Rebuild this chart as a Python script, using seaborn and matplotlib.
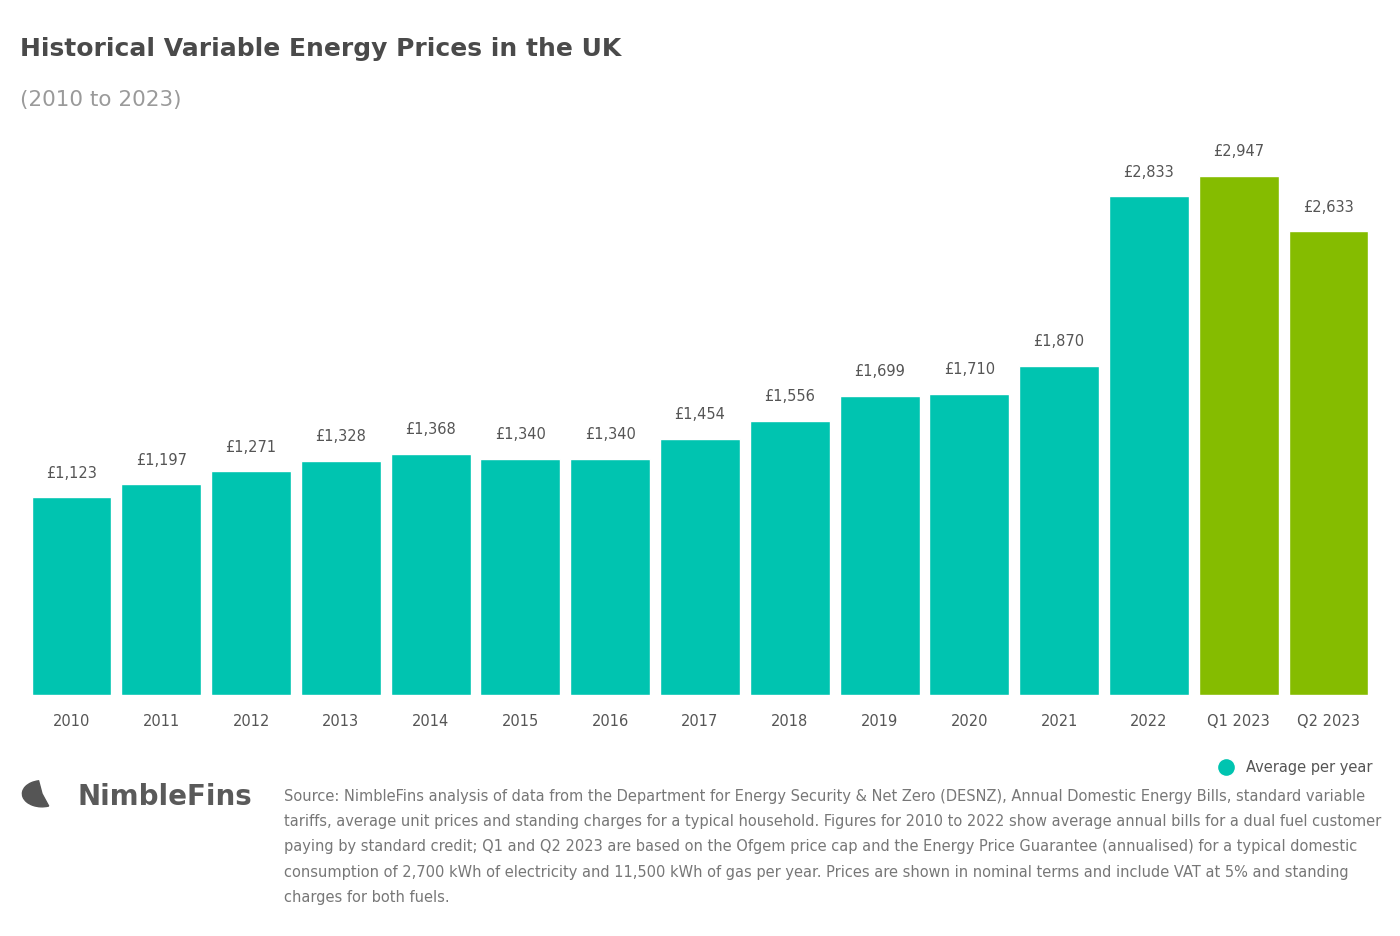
import matplotlib
matplotlib.use("Agg")
import matplotlib.pyplot as plt
import matplotlib.patches as mpatches
from matplotlib.lines import Line2D
import seaborn as sns
import pandas as pd

# data (average yearly bill, GBP)
periods = ["2010", "2011", "2012", "2013", "2014", "2015", "2016", "2017",
           "2018", "2019", "2020", "2021", "2022", "Q1 2023", "Q2 2023"]
bills = [1123, 1197, 1271, 1328, 1368, 1340, 1340, 1454,
         1556, 1699, 1710, 1870, 2833, 2947, 2633]
kind = ["actual"] * 13 + ["cap"] * 2

teal = "#00c4b0"
green = "#85bc00"
grey = "#555555"

df = pd.DataFrame({"Period": periods, "Bill": bills, "Kind": kind})

sns.set_theme(style="white")
plt.rcParams["font.family"] = ["DejaVu Sans"]

fig = plt.figure(figsize=(14, 9.36), dpi=100)
ax = fig.add_axes([0.019, 0.2575, 0.962, 0.585])

sns.barplot(data=df, x="Period", y="Bill", hue="Kind",
            palette={"actual": teal, "cap": green}, dodge=False,
            width=0.89, saturation=1, legend=False, ax=ax)

ax.set_ylim(0, 3110)
ax.set_xlim(-0.5, len(periods) - 0.5)
ax.set_xlabel("")
ax.set_ylabel("")
ax.set_yticks([])
for s in ax.spines.values():
    s.set_visible(False)
ax.tick_params(axis="x", length=0, pad=14, labelsize=10.5, labelcolor=grey)

# value labels above the bars
for i, v in enumerate(bills):
    ax.annotate(f"£{v:,}", (i, v), xytext=(0, 12), textcoords="offset points",
                ha="center", va="bottom", fontsize=10.5, color=grey)

# titles
fig.text(0.014, 0.948, "Historical Variable Energy Prices in the UK",
         fontsize=18, fontweight="bold", color="#4a4a4a", va="center")
fig.text(0.014, 0.893, "(2010 to 2023)", fontsize=15.5, color="#9a9a9a", va="center")

# legend
handle = Line2D([0], [0], marker="o", color="w", markerfacecolor=teal,
                markersize=13, linestyle="")
fig.legend([handle], ["Average per year"], loc="center right",
           bbox_to_anchor=(0.99, 0.18), frameon=False, fontsize=10.5,
           labelcolor=grey, handletextpad=0.4)

# logo
fig.patches.append(mpatches.Wedge((0.03, 0.152), 0.014, 100, 290,
                                  transform=fig.transFigure, color="#555555"))
fig.text(0.055, 0.148, "NimbleFins", fontsize=20, fontweight="bold",
         color="#5a5a5a", va="center")

# footnote
note = ("Source: NimbleFins analysis of data from the Department for Energy Security & Net Zero (DESNZ), Annual Domestic Energy Bills, standard variable\n"
        "tariffs, average unit prices and standing charges for a typical household. Figures for 2010 to 2022 show average annual bills for a dual fuel customer\n"
        "paying by standard credit; Q1 and Q2 2023 are based on the Ofgem price cap and the Energy Price Guarantee (annualised) for a typical domestic\n"
        "consumption of 2,700 kWh of electricity and 11,500 kWh of gas per year. Prices are shown in nominal terms and include VAT at 5% and standing\n"
        "charges for both fuels.")
fig.text(0.203, 0.157, note, fontsize=10.5, color="#777777", va="top",
         linespacing=1.85)

fig.savefig("out.png", dpi=100, facecolor="white")
